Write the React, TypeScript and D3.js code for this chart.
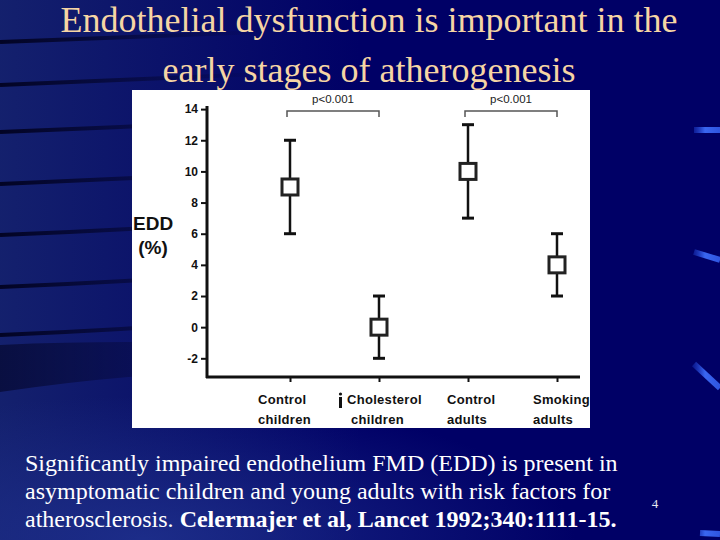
import React, { useRef, useEffect } from "react";
import * as d3 from "d3";

// chart data
const categories = ["Control children", "Cholesterol children", "Control adults", "Smoking adults"];
const labelLines = [
    ["Control", "children"],
    ["Cholesterol", "children"],
    ["Control", "adults"],
    ["Smoking", "adults"],
];
const means = [9, 0, 10, 4];
const lows = [6, -2, 7, 2];
const highs = [12, 2, 13, 6];
const yTicks = [14, 12, 10, 8, 6, 4, 2, 0, -2];
const comparisons: [number, number, string][] = [
    [0, 1, "p<0.001"],
    [2, 3, "p<0.001"],
];

const titleLines = ["Endothelial dysfunction is important in the", "early stages of atherogenesis"];
const noteLines = [
    "Significantly impaired endothelium FMD (EDD) is present in",
    "asymptomatic children and young adults with risk factors for",
];
const noteLast = "atherosclerosis. ";
const noteRef = "Celermajer et al, Lancet 1992;340:1111-15.";

const App: React.FC = () => {
    const ref = useRef<SVGSVGElement | null>(null);
    const width = 720;
    const height = 540;

    useEffect(() => {
        if (!ref.current) return;
        const svg = d3.select(ref.current);
        svg.selectAll("*").remove();

        // single family names only: lists fell back to the default sans
        const serif = "Liberation Serif";
        const sans = "Liberation Sans";

        // ---- slide background ----
        const defs = svg.append("defs");
        const leftGrad = defs.append("linearGradient").attr("id", "leftGrad");
        leftGrad.append("stop").attr("offset", "0%").attr("stop-color", "#16246e").attr("stop-opacity", 0.9);
        leftGrad.append("stop").attr("offset", "50%").attr("stop-color", "#16246e").attr("stop-opacity", 0);

        const bottomGrad = defs
            .append("radialGradient")
            .attr("id", "bottomGrad")
            .attr("cx", "0.2").attr("cy", "1").attr("r", "0.6");
        bottomGrad.append("stop").attr("offset", "0%").attr("stop-color", "#1e2f8c").attr("stop-opacity", 0.9);
        bottomGrad.append("stop").attr("offset", "100%").attr("stop-color", "#1e2f8c").attr("stop-opacity", 0);

        const stripeGrad = defs
            .append("linearGradient")
            .attr("id", "stripeGrad")
            .attr("gradientUnits", "userSpaceOnUse")
            .attr("x1", 0).attr("x2", 260).attr("y1", 0).attr("y2", 0);
        stripeGrad.append("stop").attr("offset", "0%").attr("stop-color", "#00001c").attr("stop-opacity", 0.9);
        stripeGrad.append("stop").attr("offset", "100%").attr("stop-color", "#00001c").attr("stop-opacity", 0);

        const blueGrad = defs
            .append("linearGradient")
            .attr("id", "blueGrad")
            .attr("gradientUnits", "userSpaceOnUse")
            .attr("x1", 690).attr("x2", 720).attr("y1", 0).attr("y2", 0);
        blueGrad.append("stop").attr("offset", "0%").attr("stop-color", "#1a3ad0").attr("stop-opacity", 0.2);
        blueGrad.append("stop").attr("offset", "50%").attr("stop-color", "#3a66f0");
        blueGrad.append("stop").attr("offset", "100%").attr("stop-color", "#2f55e0");

        svg.append("rect").attr("width", width).attr("height", height).attr("fill", "#000066");
        svg.append("rect").attr("width", width).attr("height", height).attr("fill", "url(#leftGrad)");
        svg.append("rect").attr("y", 300).attr("width", width).attr("height", 240).attr("fill", "url(#bottomGrad)");

        // dark sweeping stripes on the left
        [40, 83, 130, 182, 233, 285, 333].forEach((sy, i) => {
            svg
                .append("path")
                .attr("d", `M0,${sy + 2} Q130,${sy - 3} 260,${sy - 8 - i}`)
                .attr("fill", "none")
                .attr("stroke", "url(#stripeGrad)")
                .attr("stroke-width", 4);
        });
        // dark band above the bottom text
        svg
            .append("path")
            .attr("d", "M0,345 Q160,338 300,348 L300,372 Q160,368 0,392 Z")
            .attr("fill", "url(#stripeGrad)")
            .attr("opacity", 0.6);

        // bright blue strokes on the right edge
        const strokes = [
            [694, 130, 720, 130],
            [694, 252, 720, 260],
            [694, 364, 720, 388],
            [700, 533, 720, 534],
        ];
        strokes.forEach(([x1, y1, x2, y2]) => {
            svg
                .append("line")
                .attr("x1", x1).attr("y1", y1).attr("x2", x2).attr("y2", y2)
                .attr("stroke", "url(#blueGrad)")
                .attr("stroke-width", 6);
        });

        // ---- title ----
        svg
            .append("g")
            .selectAll("text")
            .data(titleLines)
            .enter()
            .append("text")
            .attr("x", 369)
            .attr("y", (_, i) => 32 + i * 50)
            .attr("text-anchor", "middle")
            .attr("fill", "#f6d5a4")
            .style("font-family", serif)
            .style("font-size", "36px")
            .text((d) => d);

        // ---- chart image panel ----
        svg.append("rect").attr("x", 132).attr("y", 90).attr("width", 458).attr("height", 338).attr("fill", "#ffffff");

        const plot = { left: 207, right: 580, top: 106, bottom: 377 };
        const y = d3.scaleLinear().domain([-3.2, 14.2]).range([plot.bottom, plot.top]);
        const x = d3.scalePoint<string>().domain(categories).range([290, 557]);
        const ink = "#111111";

        // y axis
        const yAxis = d3.axisLeft(y).tickValues(yTicks).tickSize(6).tickPadding(3).tickFormat((d) => String(d));
        const gy = svg.append("g").attr("transform", `translate(${plot.left},0)`).call(yAxis);
        gy.select(".domain").remove();
        gy.attr("font-family", null).attr("font-size", null);
        gy.selectAll("line").attr("stroke", ink).attr("stroke-width", 2);
        gy.selectAll("text")
            .attr("fill", ink)
            .style("font-family", sans)
            .style("font-size", "12px")
            .style("font-weight", "bold");

        // x axis ticks
        const xAxis = d3.axisBottom(x).tickSize(5).tickFormat(() => "");
        const gx = svg.append("g").attr("transform", `translate(0,${plot.bottom})`).call(xAxis);
        gx.select(".domain").remove();
        gx.selectAll("line").attr("stroke", ink).attr("stroke-width", 2);

        // axis lines
        svg.append("line")
            .attr("x1", plot.left).attr("x2", plot.left)
            .attr("y1", plot.top).attr("y2", plot.bottom + 1)
            .attr("stroke", ink).attr("stroke-width", 3);
        svg.append("line")
            .attr("x1", plot.left - 1).attr("x2", plot.right)
            .attr("y1", plot.bottom).attr("y2", plot.bottom)
            .attr("stroke", ink).attr("stroke-width", 3);

        // axis title
        svg.append("text")
            .attr("x", 133).attr("y", 230)
            .attr("fill", ink)
            .style("font-family", sans).style("font-size", "19px").style("font-weight", "bold")
            .text("EDD");
        svg.append("text")
            .attr("x", 153).attr("y", 254)
            .attr("text-anchor", "middle")
            .attr("fill", ink)
            .style("font-family", sans).style("font-size", "19px").style("font-weight", "bold")
            .text("(%)");

        // category labels (left aligned blocks under each tick)
        const labelOffsets = [-32, -32, -21, -24];
        categories.forEach((c, i) => {
            const t = svg.append("text")
                .attr("fill", ink)
                .style("font-family", sans).style("font-size", "13px").style("font-weight", "bold")
                .style("letter-spacing", "0.3px");
            labelLines[i].forEach((line, j) => {
                t.append("tspan")
                    .attr("x", (x(c) as number) + labelOffsets[i] + (i === 1 && j === 1 ? 4 : 0))
                    .attr("y", 404 + j * 20)
                    .text(line);
            });
        });
        // stray mark in front of "Cholesterol"
        svg.append("rect").attr("x", 339).attr("y", 397).attr("width", 3).attr("height", 11).attr("fill", ink);
        svg.append("circle").attr("cx", 340.5).attr("cy", 394).attr("r", 1.6).attr("fill", ink);

        // error bars
        const capW = 12;
        const g = svg.append("g");
        categories.forEach((c, i) => {
            const cx = x(c) as number;
            g.append("line")
                .attr("x1", cx).attr("x2", cx)
                .attr("y1", y(highs[i])).attr("y2", y(lows[i]))
                .attr("stroke", ink).attr("stroke-width", 2.5);
            [highs[i], lows[i]].forEach((v) => {
                g.append("line")
                    .attr("x1", cx - capW / 2).attr("x2", cx + capW / 2)
                    .attr("y1", y(v)).attr("y2", y(v))
                    .attr("stroke", ink).attr("stroke-width", 3);
            });
        });

        // mean markers
        const sq = 16;
        g.selectAll(".mean")
            .data(means)
            .enter()
            .append("rect")
            .attr("class", "mean")
            .attr("x", (_, i) => (x(categories[i]) as number) - sq / 2)
            .attr("y", (d) => y(d) - sq / 2)
            .attr("width", sq)
            .attr("height", sq)
            .attr("fill", "#ffffff")
            .attr("stroke", "#222222")
            .attr("stroke-width", 3);

        // significance brackets
        comparisons.forEach(([a, b, label]) => {
            const xa = (x(categories[a]) as number) - 3;
            const xb = x(categories[b]) as number;
            const by = 111;
            svg.append("path")
                .attr("d", `M${xa},${by + 6} V${by} H${xb} V${by + 6}`)
                .attr("fill", "none")
                .attr("stroke", "#555555")
                .attr("stroke-width", 1.5);
            svg.append("text")
                .attr("x", (xa + xb) / 2)
                .attr("y", 103)
                .attr("text-anchor", "middle")
                .attr("fill", "#222222")
                .style("font-family", sans)
                .style("font-size", "11.5px")
                .text(label);
        });

        // ---- note at the bottom ----
        const note = svg.append("text")
            .attr("fill", "#ffffff")
            .style("font-family", serif)
            .style("font-size", "24px");
        noteLines.forEach((line, i) => {
            note.append("tspan").attr("x", 25).attr("y", 471 + i * 28).text(line);
        });
        note.append("tspan").attr("x", 25).attr("y", 527).text(noteLast);
        note.append("tspan").style("font-weight", "bold").text(noteRef);

        // page number
        svg.append("text")
            .attr("x", 655).attr("y", 508)
            .attr("text-anchor", "middle")
            .attr("fill", "#e8e8f0")
            .style("font-family", serif)
            .style("font-size", "13px")
            .text("4");
    }, []);

    return (
        <svg
            ref={ref}
            width={width}
            height={height}
            style={{ position: "absolute", left: 0, top: 0, display: "block" }}
        />
    );
};

export default App;
